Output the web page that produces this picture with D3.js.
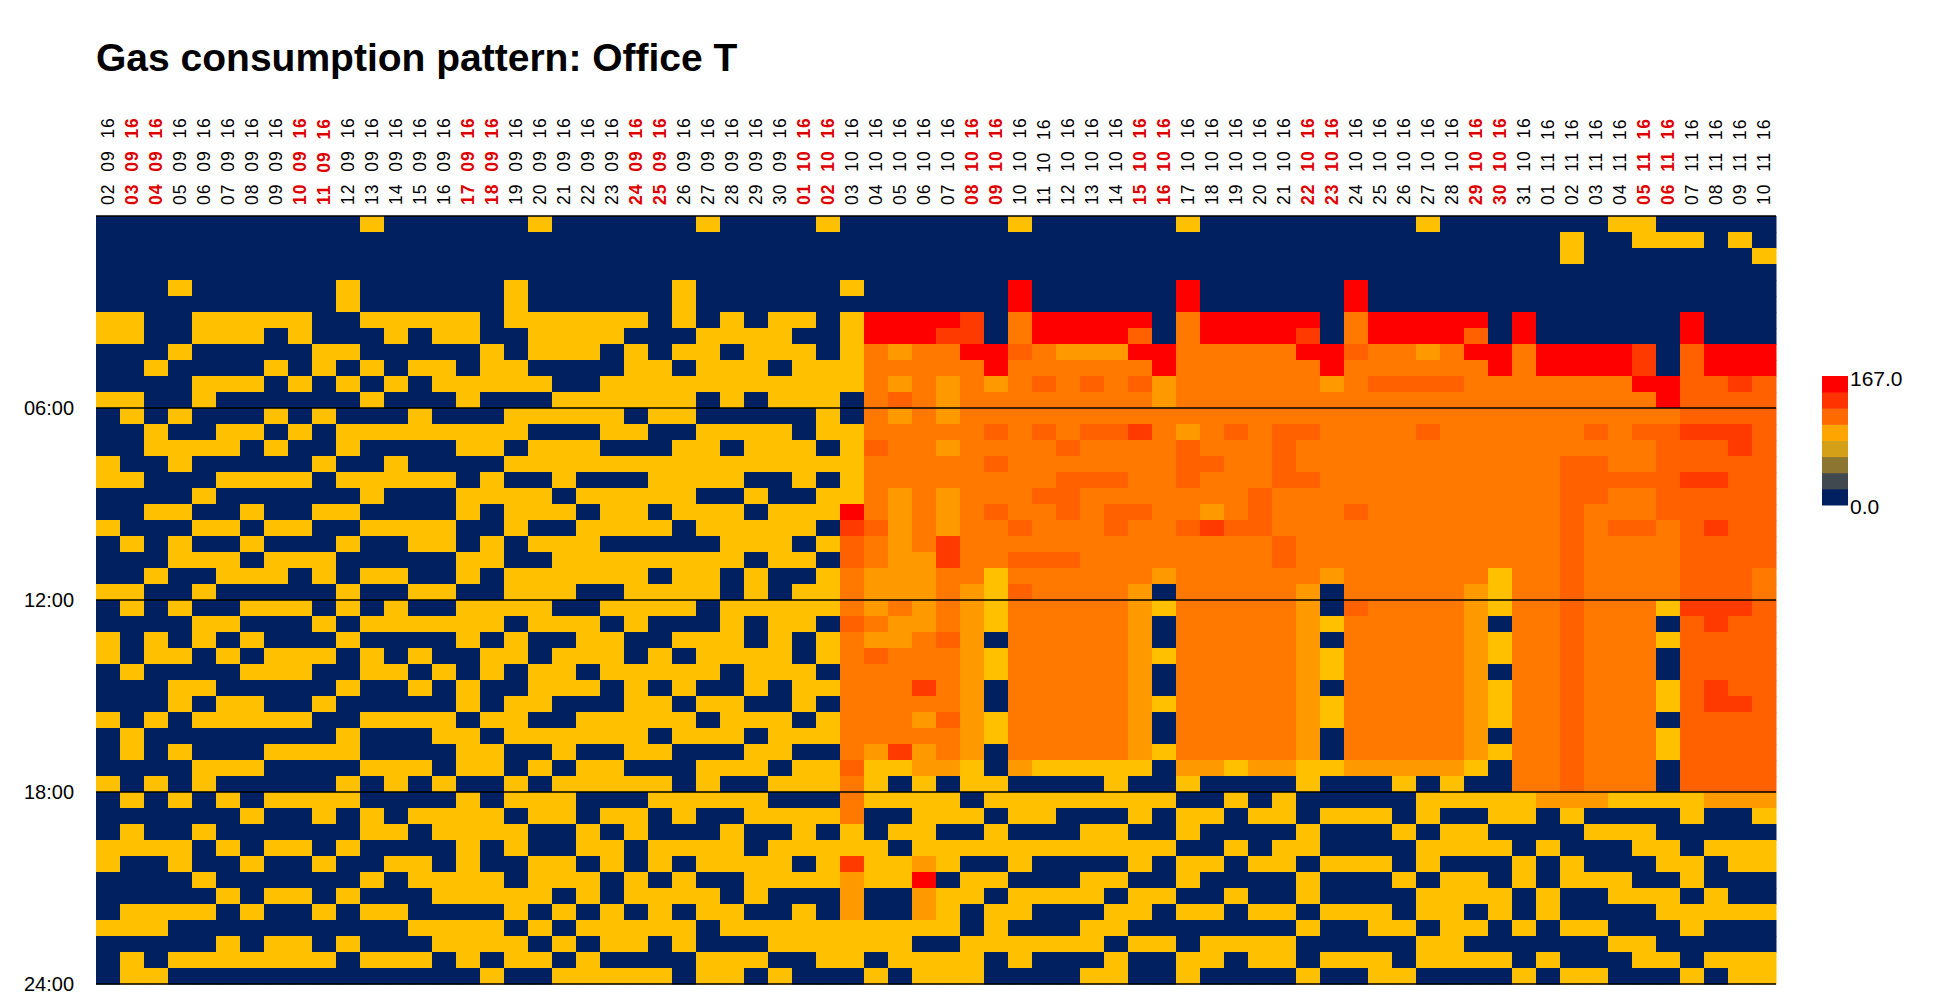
<!DOCTYPE HTML>
<html>
<head>
	<meta charset="UTF-8">
	<script src="https://d3js.org/d3.v7.min.js"></script>
	<style type="text/css">
	body { margin: 0; background: #fff; font-family: "Liberation Sans", Arial, sans-serif; }
	.title { font-size: 39px; font-weight: bold; }
	.day { font-size: 17.5px; white-space: pre; letter-spacing: 1px; }
	.hour { font-size: 20px; }
	.leg { font-size: 21px; }
	</style>
	<title>Gas consumption pattern</title>
</head>
<body>
<div id="chart"></div>
<script>
var width = 1944, height = 995;
var margin = {top: 216, left: 96};
var cellW = 24, cellH = 16;

// 70 days, 02 Sep 2016 .. 10 Nov 2016
var days = ["02 09 16","03 09 16","04 09 16","05 09 16","06 09 16","07 09 16","08 09 16","09 09 16","10 09 16","11 09 16",
  "12 09 16","13 09 16","14 09 16","15 09 16","16 09 16","17 09 16","18 09 16","19 09 16","20 09 16","21 09 16",
  "22 09 16","23 09 16","24 09 16","25 09 16","26 09 16","27 09 16","28 09 16","29 09 16","30 09 16","01 10 16",
  "02 10 16","03 10 16","04 10 16","05 10 16","06 10 16","07 10 16","08 10 16","09 10 16","10 10 16","11 10 16",
  "12 10 16","13 10 16","14 10 16","15 10 16","16 10 16","17 10 16","18 10 16","19 10 16","20 10 16","21 10 16",
  "22 10 16","23 10 16","24 10 16","25 10 16","26 10 16","27 10 16","28 10 16","29 10 16","30 10 16","31 10 16",
  "01 11 16","02 11 16","03 11 16","04 11 16","05 11 16","06 11 16","07 11 16","08 11 16","09 11 16","10 11 16"];
var weekend = ["03 09 16","04 09 16","10 09 16","11 09 16","17 09 16","18 09 16","24 09 16","25 09 16",
  "01 10 16","02 10 16","08 10 16","09 10 16","15 10 16","16 10 16","22 10 16","23 10 16","29 10 16","30 10 16",
  "05 11 16","06 11 16"];
var hourTicks = ["06:00", "12:00", "18:00", "24:00"];

// consumption level codes -> value
var levelCodes = [".", "y", "a", "o", "d", "r", "R"];
var levelValues = [0, 60, 95, 120, 135, 150, 167];

// one string per half-hour slot (48), one char per day (70), split in 4 blocks
var slots = [
"...........y...... y......y....y..... ..y......y....... ..y.......yy.....",
".................. .................. ................. ........y..yyy.y.",
".................. .................. ................. ........y.......y",
".................. .................. ................. .................",
"...y......y......y ......y......y.... ..R......R......R .................",
"..........y......y ......y........... ..R......R......R .................",
"yy..yyyyy..yyyyy.y yyyyy.y.y.yy.yRRRR r.oRRRRR.oRRRRR.o RRRRR.R......R...",
"yy..yyy.y...y.yy.. yyyy...yyyy..yRRRr r.oRRRRd.oRRRRr.o RRRRd.R......R...",
"...y.....yy.....y. yyy.y.yy.yyy.yoaoo RRdoaaaRRoooooRRd ooaoRRoRRRRr.dRRR",
"..y....y.y.y.yy.yy ....yy.yyy.yyyoooo oRooooooRooooooRo oooooRoRRRRr.dRRR",
"....yyy.y.y.y.yyyy y..yyyyyyyyyyyoaoa oaodododaooooooao ddddoooooooRRddrd",
"yy..y......y...y.. .yyyyyy.y.yyy.odoa ooooooooaoooooooo ooooooooooooRdddd",
".y.y...y.y...y...y yyyy.yy.....y.oaoa ooooooooooooooooo ooooooooooooodddd",
"..y..yy.y.yyyyyyyy ...yy..yyyy.yyoooo odododdroaododdoo oodoooooododdrrrd",
"..yyyy.y..y....yy. yyy...yy.yyy.ydooa oooodoooodooodooo oooooooooooodddrd",
"y..y.....y..y....y yyyyyyyyyyyyyyoooo odoooooooddoodooo ooooooooddooddddd",
"yy...yyyy.yyyyy.y. .y...yyyy..y.yoooo oooodddoodoooddoo oooooooodddddrrdd",
"....y......y...yyy y.yyyyy..y..yyoaoa oooddooooooodoooo ooooooooddooddddd",
"..yy..y..yy....y.y yy.yy.yyy.yyyRoaoa odoododdooaodoood oooooooodoooddddd",
"y...yy.yy..yyyy..y ..yyyy.yyyyy.rdaoa oodooodoodrddoooo oooooooododdodrdd",
".y.y..y...y..yy.y. yyy.....yyy.ydoaor ooooooooooooodooo oooooooodoooodddd",
"...yyy.yyy.....yy. .yyyyyyyy.yy.doaar oodddoooooooodooo oooooooodoooodddd",
"..y..yyy.y.yy..y.y yyyyy.yy.y..yoaaao oyooooooaooooooao oooooyoodoooodddo",
"yy..y.....y..yy..y yy..yyyy.y.yyoaaao aydooooa.oooooa.o ooooayoodoooodddo",
".y.y..yyy.y.y..yyy y..yyyy.yyyyyoaoao ayoooooayoooooa.d ooooayoodoooyrrrd",
"....yy...y.yyyyyy. yyy.y...y.yy.doaao ayoooooa.oooooayo ooooa.oodooo.drdd",
"y.y.y.y...y....y.y ..yy..yyy.y.yoaaod a.oooooa.oooooa.o ooooayoodoooydddd",
"y.yy.y.yyy.y.y..yy .yyy.y.yyyy.yodooo ayoooooayoooooayo ooooayoodooo.dddd",
".y....yyy..yy.y.y. yy.yyyyy.yyy.ooooo ayoooooa.oooooayo ooooa.oodooo.dddd",
"...yy.....y..y.y.. yyy.y.y..y.yyoooro a.oooooa.oooooa.o ooooayoodoooydrdd",
"...y.yy..y.....y.y y...yy.yy..y.ooooo a.oooooayoooooayo ooooayoodoooydrrd",
"y.y.yyyyy..yyyy.yy ..yyyyy.yyy.yoooad ayoooooa.oooooayo ooooayoodooo.dddd",
".y........y...yy.y yyyyy.yyy.yyyooooo ayoooooa.oooooa.o ooooa.oodoooydddd",
".y.y...yyyy....yy. .y..yy...yy..oarao a.oooooayoooooa.o ooooayoodoooydddd",
"....yyy....yyy.yy. y.yy...yyy.yydyyaa y.ayyyyy.aayaayya aaaay.oodooo.dddd",
"y.y.y.....y.y.y..y .yyyyy.y..yyyoy.y. yy....y..y....y.. .y.y..oodooo.dddd",
".y.y.y.yyyy....y.y yy...yyyyy...oyyyy .yyyyyyyy..y.y... ..yyyyyaaayyyyaaa",
"......y..y.y.yyyy. yy.yy.y..yyyyo..yy y.yy...y.yy.yy.yy y.y..yy.y....y..y",
".y..y......yy.yyyy ..y.y...y..y.y.yy. .y...yy..y....y.. .y.yy....yyy.....",
"yyyy.y.yy.y....y.y ..yy.yyyy.yyyyy.yy yyyyyyyyy..y.yy.. ..yyyy.y...yy.yyy",
"y..y..y..y..yy.y.. yy.y.y.yyyy.yryyay ..y....y.yy.yy.yy y.y...y.y...yy.yy",
"....y......y.yyyy. yyy.y.y..yyyyayyR. yy...yy..y....y.. .y.yy.y.yyy..y...",
".....y.yy.y...yyyy y.y.yyyy.y...a..ay y.yyyy.yy..y..y.. ..yyyy.y..yyy.y..",
".yyyy.y..y.yy....y .y.y.y.yy..y.a..ay .yy...yy.yy.yy.yy y.yy.y.y....yyyyy",
"yyy..........yyyy. y.yyyyy.yyyyyyyyyy .y...yy.......y.. yy.yy.y.yy...y...",
".....y.yy.y...yyyy .y.yy.y...yyyyyy.. yyyyyy.yy.yyyy... ..yy......yy.....",
".y.yyyyyyy.yyy.y.y y.y....yyy..yy.yyy y.y...y..yy.yy.yy y.yyyy.y...yy.yyy",
".yy.............y. .yyyyy.yy.y...y.yy y....yy..y....y.. yy....y.yy...y.yy"
];
</script>
<script>
var codeValue = d3.scaleOrdinal().domain(levelCodes).range(levelValues);

var cells = [];
slots.forEach(function(s, r) {
  s.replace(/ /g, "").split("").forEach(function(c, i) {
    if (i < days.length) cells.push({day: days[i], slot: r, v: codeValue(c)});
  });
});

var xScale = d3.scaleBand().domain(days).range([margin.left, margin.left + cellW * days.length]);
var yScale = d3.scaleBand().domain(d3.range(48)).range([margin.top, margin.top + cellH * 48]);
var hourScale = d3.scaleLinear().domain([0, 24]).range([margin.top, margin.top + cellH * 48]);

var color = d3.scaleLinear()
    .domain([0, 60, 95, 120, 135, 150, 167])
    .range(["#002060", "#FFC000", "#FF9900", "#FF7800", "#FF6000", "#FF3A00", "#FF0000"]);

var svg = d3.select("#chart").append("svg")
    .attr("width", width)
    .attr("height", height);

svg.append("text")
    .attr("class", "title")
    .attr("x", 96).attr("y", 71)
    .text("Gas consumption pattern: Office T");

// heatmap cells
svg.append("g").selectAll("rect")
    .data(cells)
    .enter().append("rect")
    .attr("x", function(d) { return xScale(d.day); })
    .attr("y", function(d) { return yScale(d.slot); })
    .attr("width", xScale.bandwidth() + 0.5)
    .attr("height", yScale.bandwidth() + 0.5)
    .attr("fill", function(d) { return color(d.v); });

// day labels, weekends red bold
svg.append("g").selectAll("text")
    .data(days)
    .enter().append("text")
    .attr("class", "day")
    .attr("transform", function(d) {
      return "translate(" + (xScale(d) + xScale.bandwidth() / 2 + 6) + ",205) rotate(-90)";
    })
    .attr("fill", function(d) { return weekend.indexOf(d) >= 0 ? "#e00000" : "#000"; })
    .attr("font-weight", function(d) { return weekend.indexOf(d) >= 0 ? "bold" : "normal"; })
    .text(function(d) { return d.replace(/ /g, "  "); });

// horizontal lines at 0, 6, 12, 18, 24
svg.append("g").selectAll("line")
    .data([0, 6, 12, 18, 24])
    .enter().append("line")
    .attr("x1", margin.left).attr("x2", margin.left + cellW * days.length)
    .attr("y1", function(d) { return hourScale(d); })
    .attr("y2", function(d) { return hourScale(d); })
    .attr("stroke", "#000")
    .attr("stroke-width", 1.5);

svg.append("g").selectAll("text")
    .data(hourTicks)
    .enter().append("text")
    .attr("class", "hour")
    .attr("x", 24)
    .attr("y", function(d, i) { return hourScale((i + 1) * 6) + 7; })
    .text(function(d) { return d; });

// legend
var legColors = ["#002060", "#404850", "#8B7530", "#D4A017", "#FFA500", "#FF6A00", "#FF3300", "#FF0000"];
var legY = d3.scaleBand().domain(d3.range(8)).range([505, 376]);
svg.append("g").selectAll("rect")
    .data(legColors)
    .enter().append("rect")
    .attr("x", 1822).attr("width", 26)
    .attr("y", function(d, i) { return legY(i); })
    .attr("height", legY.bandwidth() + 0.5)
    .attr("fill", function(d) { return d; });
svg.append("text").attr("class", "leg").attr("x", 1850).attr("y", 386).text("167.0");
svg.append("text").attr("class", "leg").attr("x", 1850).attr("y", 514).text("0.0");
</script>
</body>
</html>
